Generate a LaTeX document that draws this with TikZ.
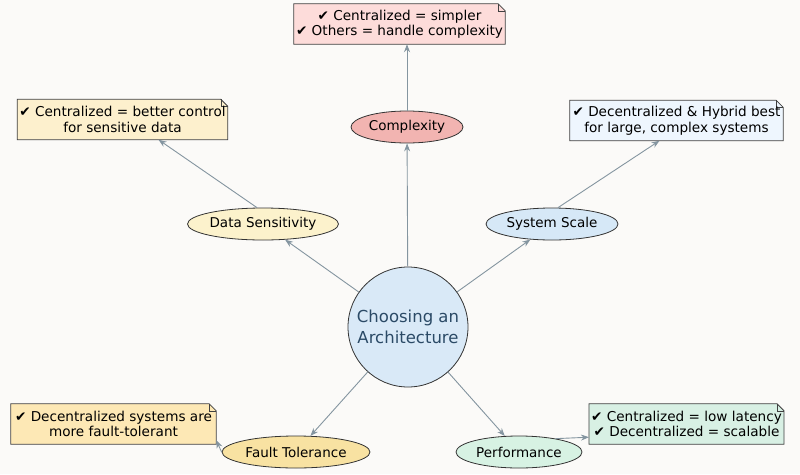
\documentclass[tikz,border=0pt]{standalone}
\usepackage{fontspec}
\setmainfont{DejaVu Sans}
\usetikzlibrary{
  arrows.meta,
  positioning,
  shapes.geometric,
  calc,
  backgrounds
}
\definecolor{pagebg}{HTML}{FBFAF8}
\definecolor{linkgray}{HTML}{8495A0}
\definecolor{hubfill}{HTML}{D9E9F7}
\definecolor{hubtext}{HTML}{2B4A66}
\definecolor{cplxfill}{HTML}{F2B4B1}
\definecolor{cplxpaper}{HTML}{FDDCDA}
\definecolor{sensfill}{HTML}{FCF2CC}
\definecolor{senspaper}{HTML}{FDF0CD}
\definecolor{scalefill}{HTML}{D6E8F7}
\definecolor{scalepaper}{HTML}{EEF6FE}
\definecolor{faultfill}{HTML}{F8E2A2}
\definecolor{faultpaper}{HTML}{FDE8B5}
\definecolor{perffill}{HTML}{D7F2E3}
\definecolor{perfpaper}{HTML}{D8F0E4}

\tikzset{
  topic/.style={ellipse, draw=black!80, line width=0.8pt, inner sep=0pt,
    minimum height=32pt, font=\fontsize{13.5}{15}\selectfont},
  memo/.style={align=center, inner xsep=2pt, inner ysep=3pt, minimum height=40pt,
    font=\fontsize{13.6}{15.5}\selectfont},
  link/.style={draw=linkgray, line width=0.9pt, -{Stealth[length=8pt,width=6pt]}}
}
% paper with folded corner, drawn behind a memo node
\newcommand{\foldmemo}[2]{%
  \draw[draw=black!75, line width=0.8pt, fill=#2]
    (#1.south west) -- (#1.north west) -- ([xshift=-7pt]#1.north east)
    -- ([yshift=-7pt]#1.north east) -- (#1.south east) -- cycle;
  \draw[black!75, line width=0.6pt]
    ([xshift=-7pt]#1.north east) |- ([yshift=-7pt]#1.north east);
}

\begin{document}
\begin{tikzpicture}[x=1pt, y=-1pt]
\useasboundingbox (0,0) rectangle (800,474);

% centre
\node[circle, draw=black!80, line width=0.8pt, fill=hubfill, minimum size=120pt,
      inner sep=0pt, align=center, text=hubtext, font=\fontsize{16.5}{21}\selectfont]
  (hub) at (408,327) {Choosing an\\Architecture};

% topics
\node[topic, fill=cplxfill,  minimum width=112pt] (cplx)  at (407,127) {Complexity};
\node[topic, fill=sensfill,  minimum width=146pt] (sens)  at (263,224) {Data Sensitivity};
\node[topic, fill=scalefill, minimum width=132pt] (scale) at (552,224) {System Scale};
\node[topic, fill=faultfill, minimum width=148pt] (fault) at (296,452) {Fault Tolerance};
\node[topic, fill=perffill,  minimum width=126pt] (perf)  at (519,452) {Performance};

% memos
\node[memo, minimum width=211pt] (cplxmemo)  at (399.5,24)  {✔ Centralized = simpler\\✔ Others = handle complexity};
\node[memo, minimum width=207pt] (sensmemo)  at (122.5,119.5) {✔ Centralized = better control\\for sensitive data};
\node[memo, minimum width=213pt] (scalememo) at (676.5,120.5) {✔ Decentralized \& Hybrid best\\for large, complex systems};
\node[memo, minimum width=205pt] (faultmemo) at (113.5,424) {✔ Decentralized systems are\\more fault-tolerant};
\node[memo, minimum width=193pt] (perfmemo)  at (686.5,424) {✔ Centralized = low latency\\✔ Decentralized = scalable};

\begin{scope}[on background layer]
  \fill[pagebg] (0,0) rectangle (800,474);
  \foldmemo{cplxmemo}{cplxpaper}
  \foldmemo{sensmemo}{senspaper}
  \foldmemo{scalememo}{scalepaper}
  \foldmemo{faultmemo}{faultpaper}
  \foldmemo{perfmemo}{perfpaper}
\end{scope}

% connectors
\foreach \t in {cplx, sens, scale, fault, perf}
  \draw[link] (hub) -- (\t);
\draw[link] (cplx.north) -- (cplx.north |- cplxmemo.south);
\draw[link] (sens.110) -- ([xshift=36pt]sensmemo.south);
\draw[link] (scale.70) -- ([xshift=-17pt]scalememo.south);
\draw[link] (fault.west) -- ([yshift=4pt]faultmemo.south east);
\draw[link] (perf.20) -- ([yshift=7pt]perfmemo.south west);
\end{tikzpicture}
\end{document}
